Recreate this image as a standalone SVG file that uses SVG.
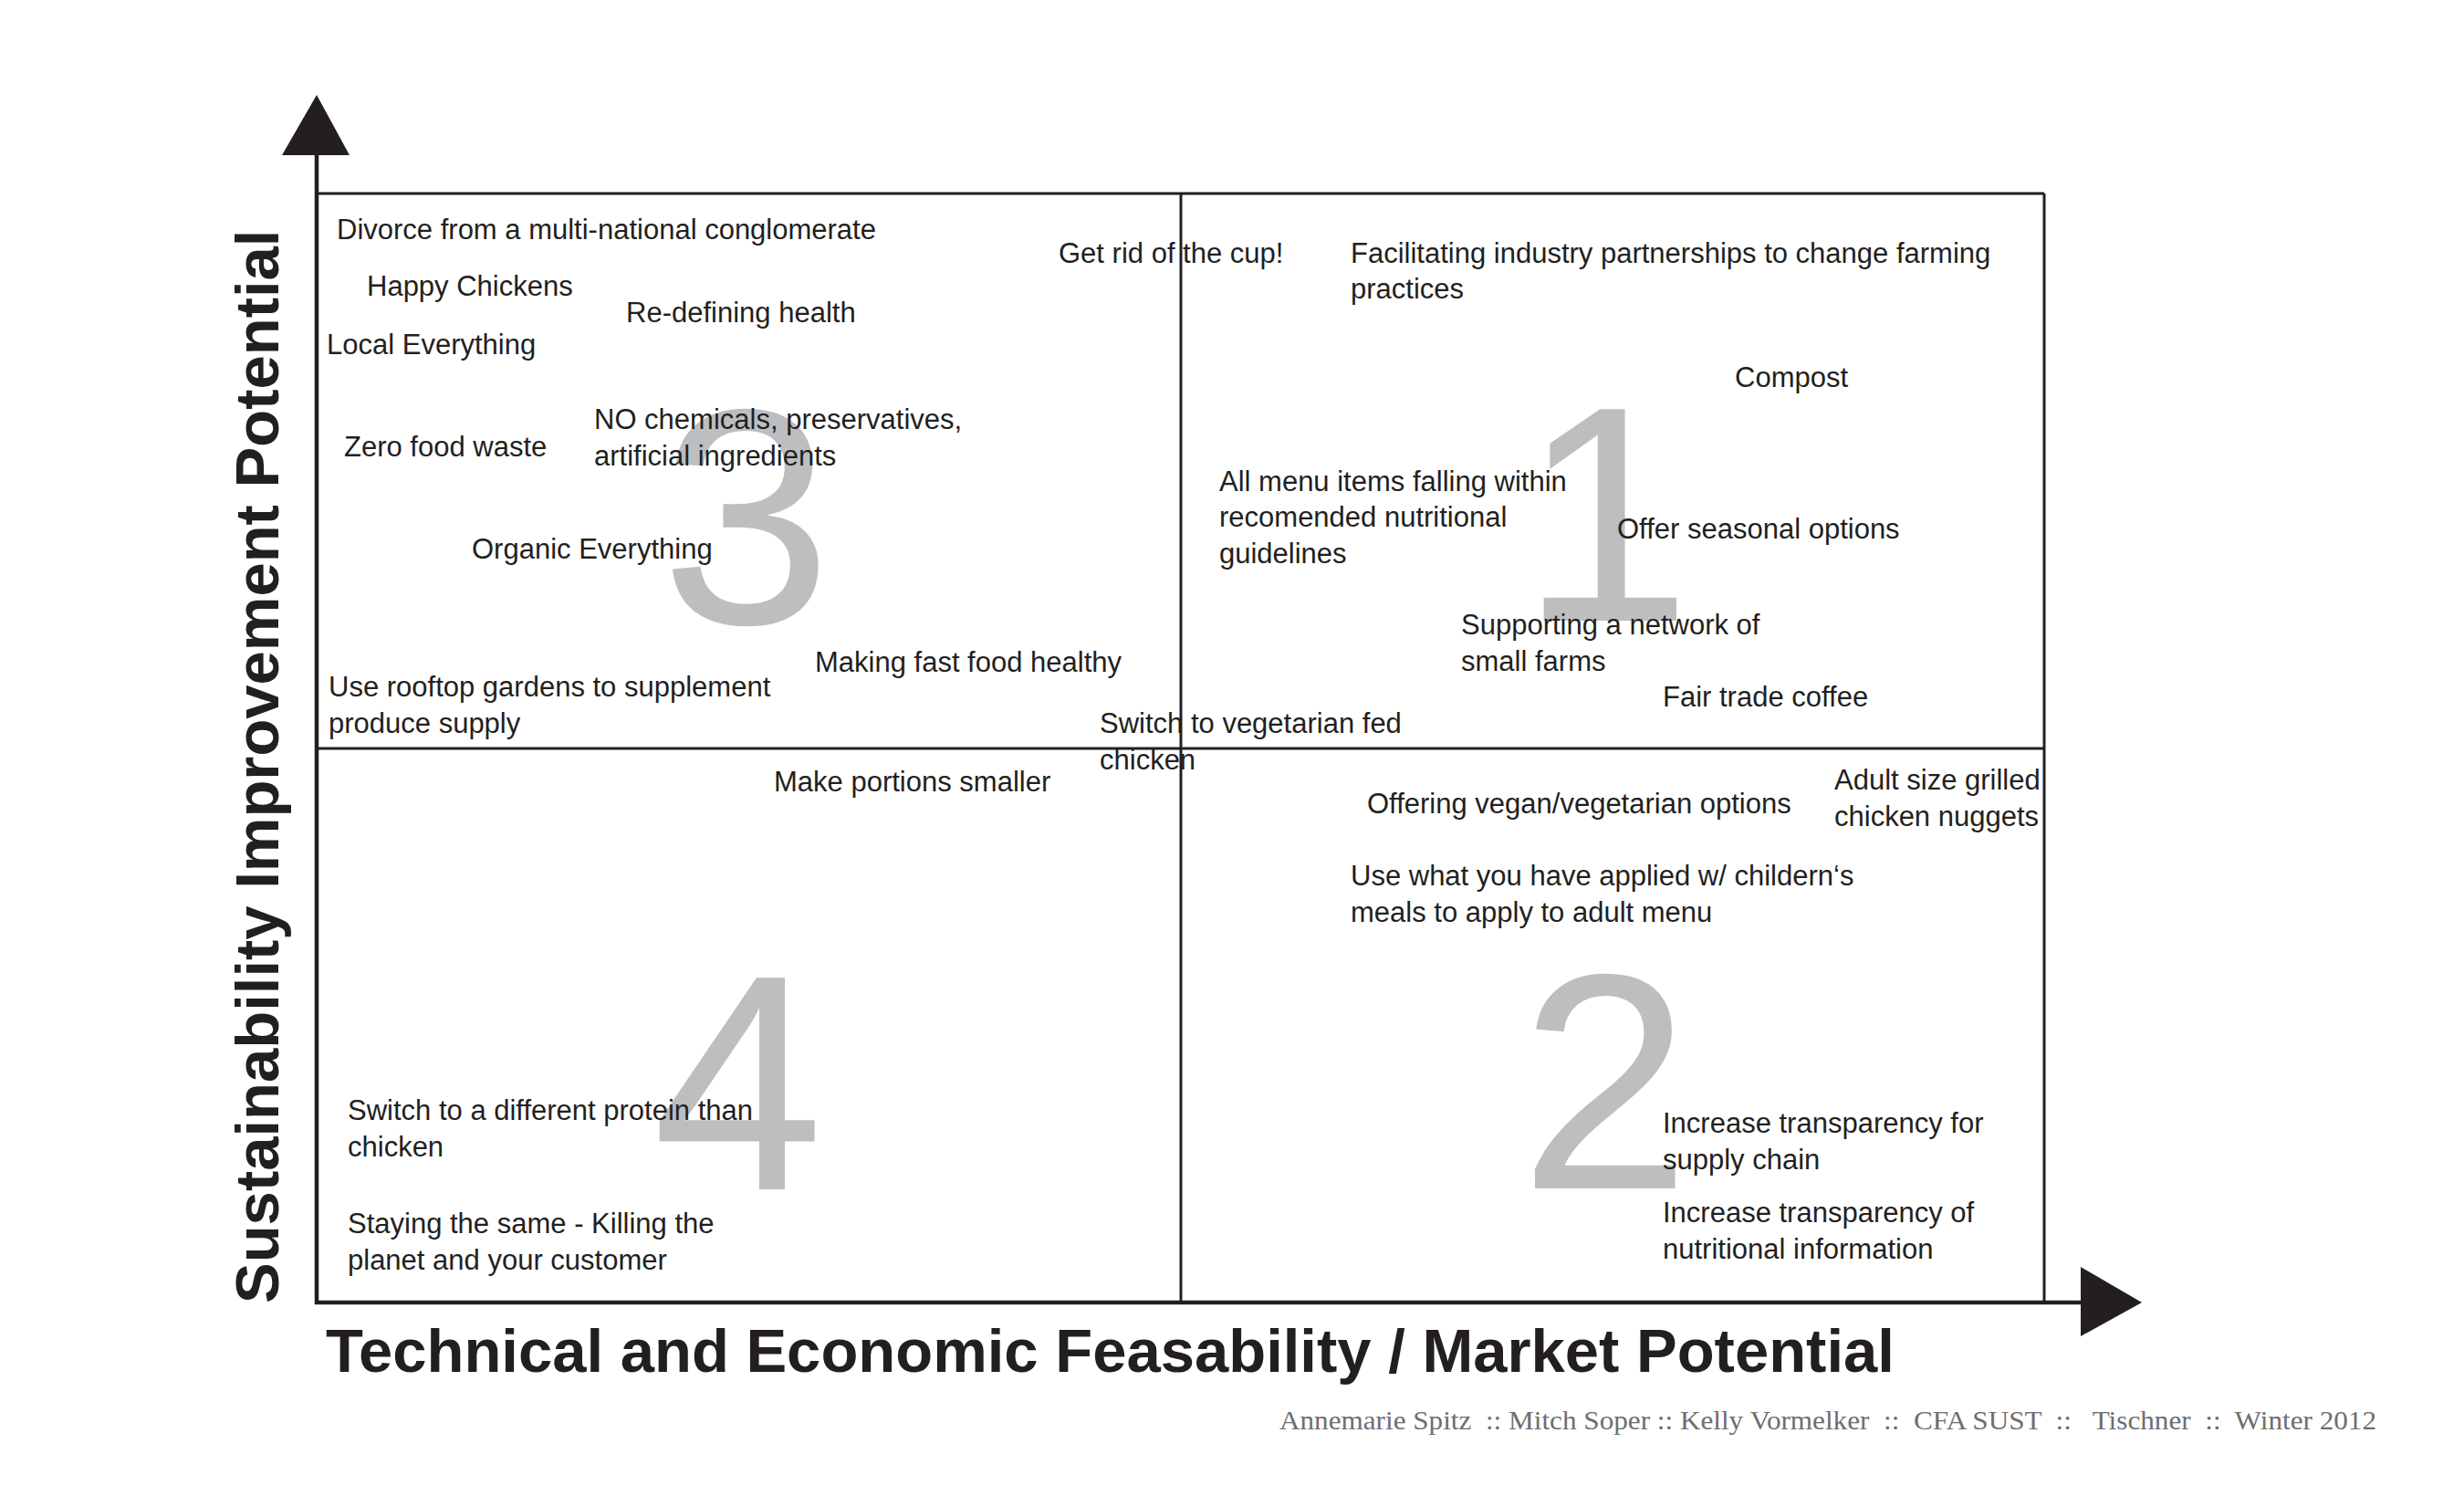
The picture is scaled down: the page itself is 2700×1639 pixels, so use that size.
<svg xmlns="http://www.w3.org/2000/svg" width="2700" height="1639" viewBox="0 0 2700 1639">
<style>
.t{font-family:"Liberation Sans",Arial,sans-serif;font-size:31px;fill:#231f20}
.num{font-family:"Liberation Sans",Arial,sans-serif;font-size:337px;fill:#bcbec0}
.ax{font-family:"Liberation Sans",Arial,sans-serif;font-size:67px;font-weight:bold;fill:#231f20}
.foot{font-family:"Liberation Serif","Times New Roman",serif;font-size:30px;fill:#6d6e71}
.frame{stroke:#231f20;stroke-width:3;fill:none}
.axis{stroke:#231f20;stroke-width:4.5;fill:none}
.head{fill:#231f20}
</style>
<rect width="2700" height="1639" fill="#ffffff"/>
<g id="quadrant-numbers">
<text class="num" x="1666" y="680">1</text>
<text class="num" x="1665" y="1302">2</text>
<text class="num" x="724" y="683">3</text>
<text class="num" x="715" y="1303">4</text>
</g>
<g id="connectors">
<line class="frame" x1="347" y1="212" x2="2240" y2="212"/>
<line class="frame" x1="2240" y1="212" x2="2240" y2="1427"/>
<line class="frame" x1="1294" y1="212" x2="1294" y2="1427"/>
<line class="frame" x1="347" y1="820" x2="2240" y2="820"/>
<line class="axis" x1="347" y1="168" x2="347" y2="1429"/>
<line class="axis" x1="345" y1="1427" x2="2282" y2="1427"/>
<polygon class="head" points="347,104 383,170 309,170"/>
<polygon class="head" points="2347,1427 2280,1388 2280,1464"/>
</g>
<g id="axis-y"><text class="ax" transform="translate(305,1428) rotate(-90)">Sustainability Improvement Potential</text></g>
<g id="axis-x"><text class="ax" x="357" y="1503">Technical and Economic Feasability / Market Potential</text></g>
<g id="n-divorce"><text class="t" x="369" y="262">Divorce from a multi-national conglomerate</text></g>
<g id="n-happy"><text class="t" x="402" y="324">Happy Chickens</text></g>
<g id="n-redefining"><text class="t" x="686" y="353">Re-defining health</text></g>
<g id="n-local"><text class="t" x="358" y="388">Local Everything</text></g>
<g id="n-zero"><text class="t" x="377" y="500">Zero food waste</text></g>
<g id="n-nochem"><text class="t" x="651" y="470">NO chemicals, preservatives,</text><text class="t" x="651" y="510">artificial ingredients</text></g>
<g id="n-organic"><text class="t" x="517" y="612">Organic Everything</text></g>
<g id="n-making"><text class="t" x="893" y="736">Making fast food healthy</text></g>
<g id="n-rooftop"><text class="t" x="360" y="763">Use rooftop gardens to supplement</text><text class="t" x="360" y="803">produce supply</text></g>
<g id="n-cup"><text class="t" x="1160" y="288">Get rid of the cup!</text></g>
<g id="n-vegfed"><text class="t" x="1205" y="803">Switch to vegetarian fed</text><text class="t" x="1205" y="843">chicken</text></g>
<g id="n-facilitating"><text class="t" x="1480" y="288">Facilitating industry partnerships to change farming</text><text class="t" x="1480" y="327">practices</text></g>
<g id="n-compost"><text class="t" x="1901" y="424">Compost</text></g>
<g id="n-menu"><text class="t" x="1336" y="538">All menu items falling within</text><text class="t" x="1336" y="577">recomended nutritional</text><text class="t" x="1336" y="617">guidelines</text></g>
<g id="n-seasonal"><text class="t" x="1772" y="590">Offer seasonal options</text></g>
<g id="n-network"><text class="t" x="1601" y="695">Supporting a network of</text><text class="t" x="1601" y="735">small farms</text></g>
<g id="n-coffee"><text class="t" x="1822" y="774">Fair trade coffee</text></g>
<g id="n-portions"><text class="t" x="848" y="867">Make portions smaller</text></g>
<g id="n-protein"><text class="t" x="381" y="1227">Switch to a different protein than</text><text class="t" x="381" y="1267">chicken</text></g>
<g id="n-staying"><text class="t" x="381" y="1351">Staying the same - Killing the</text><text class="t" x="381" y="1391">planet and your customer</text></g>
<g id="n-vegan"><text class="t" x="1498" y="891">Offering vegan/vegetarian options</text></g>
<g id="n-nuggets"><text class="t" x="2010" y="865">Adult size grilled</text><text class="t" x="2010" y="905">chicken nuggets</text></g>
<g id="n-children"><text class="t" x="1480" y="970">Use what you have applied w/ childern‘s</text><text class="t" x="1480" y="1010">meals to apply to adult menu</text></g>
<g id="n-supply"><text class="t" x="1822" y="1241">Increase transparency for</text><text class="t" x="1822" y="1281">supply chain</text></g>
<g id="n-nutrition"><text class="t" x="1822" y="1339">Increase transparency of</text><text class="t" x="1822" y="1379">nutritional information</text></g>
<g id="footer"><text class="foot" x="1402" y="1566" xml:space="preserve" textLength="1202" lengthAdjust="spacingAndGlyphs">Annemarie Spitz  :: Mitch Soper :: Kelly Vormelker  ::  CFA SUST  ::   Tischner  ::  Winter 2012</text></g>
</svg>
